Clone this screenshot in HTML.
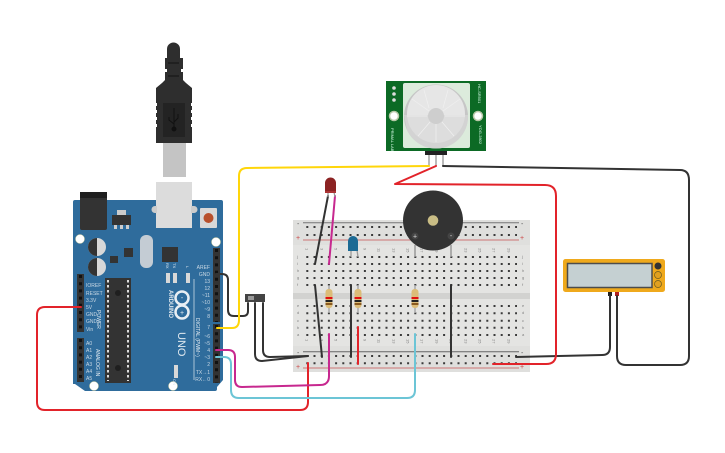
<!DOCTYPE html>
<html><head><meta charset="utf-8"><style>
html,body{margin:0;padding:0;background:#fff}
svg{display:block}
text{font-family:"Liberation Sans",sans-serif}
.w{fill:none;stroke-width:2;stroke-linecap:round;stroke-linejoin:round}
.h{stroke:#3a3a3a;stroke-width:2;fill:none}
.l text{font-size:5px;fill:#c9d8e4}
.n text{font-size:4px;fill:#808080}
.v text{writing-mode:vertical-rl}
</style></head><body>
<svg width="725" height="453" viewBox="0 0 725 453" xmlns="http://www.w3.org/2000/svg">
<!-- breadboard -->
<rect x="293" y="220" width="237" height="152" rx="2" fill="#e4e4e2"/>
<rect x="293" y="220" width="237" height="25" fill="#dfdfdd"/>
<rect x="293" y="346" width="237" height="26" fill="#dfdfdd"/>
<rect x="293" y="293" width="237" height="6" fill="#d2d2d0"/>
<line x1="303" y1="222.7" x2="519" y2="222.7" stroke="#777" stroke-width="1"/>
<line x1="303" y1="240" x2="519" y2="240" stroke="#d08a8a" stroke-width="1.300"/>
<line x1="303" y1="351.7" x2="519" y2="351.7" stroke="#666" stroke-width="1"/>
<line x1="303" y1="368" x2="519" y2="368" stroke="#d08a8a" stroke-width="1.300"/>
<g class="h" stroke-dasharray="2 5.2">
<line x1="306.3" y1="227" x2="517" y2="227"/><line x1="306.3" y1="235" x2="517" y2="235"/>
<line x1="306.3" y1="356" x2="517" y2="356"/><line x1="306.3" y1="363.3" x2="517" y2="363.3"/>
<line x1="306.3" y1="257" x2="517" y2="257"/><line x1="306.3" y1="264" x2="517" y2="264"/><line x1="306.3" y1="271" x2="517" y2="271"/><line x1="306.3" y1="278" x2="517" y2="278"/><line x1="306.3" y1="285" x2="517" y2="285"/>
<line x1="306.3" y1="306" x2="517" y2="306"/><line x1="306.3" y1="313.3" x2="517" y2="313.3"/><line x1="306.3" y1="320.7" x2="517" y2="320.7"/><line x1="306.3" y1="327.7" x2="517" y2="327.7"/><line x1="306.3" y1="335" x2="517" y2="335"/>
</g>
<g class="n">
<text x="297" y="258">j</text><text x="297" y="265">i</text><text x="297" y="272">h</text><text x="297" y="279">g</text><text x="297" y="286">f</text>
<text x="297" y="307">e</text><text x="297" y="314">d</text><text x="297" y="322">c</text><text x="297" y="329">b</text><text x="297" y="336">a</text>
<text x="522" y="258">j</text><text x="522" y="265">i</text><text x="522" y="272">h</text><text x="522" y="279">g</text><text x="522" y="286">f</text>
<text x="522" y="307">e</text><text x="522" y="314">d</text><text x="522" y="322">c</text><text x="522" y="329">b</text><text x="522" y="336">a</text>
</g>
<g class="n v">
<text x="307" y="248">1</text><text x="322" y="248">3</text><text x="336" y="248">5</text><text x="365" y="248">9</text><text x="379" y="248">11</text><text x="394" y="248">13</text><text x="408" y="248">15</text><text x="422" y="248">17</text><text x="437" y="248">19</text><text x="466" y="248">23</text><text x="480" y="248">25</text><text x="494" y="248">27</text><text x="509" y="248">29</text>
<text x="307" y="339">1</text><text x="322" y="339">3</text><text x="336" y="339">5</text><text x="365" y="339">9</text><text x="379" y="339">11</text><text x="394" y="339">13</text><text x="408" y="339">15</text><text x="422" y="339">17</text><text x="437" y="339">19</text><text x="451" y="339">21</text><text x="466" y="339">23</text><text x="480" y="339">25</text><text x="494" y="339">27</text><text x="509" y="339">29</text>
</g>
<g font-size="7" fill="#c44"><text x="296" y="240">+</text><text x="520" y="240">+</text><text x="296" y="369">+</text><text x="520" y="369">+</text></g>
<g font-size="7" fill="#555"><text x="297" y="226">-</text><text x="521" y="226">-</text><text x="297" y="355">-</text><text x="521" y="355">-</text></g>

<!-- resistors -->
<g stroke="#aaa" stroke-width="1.500"><line x1="329" y1="285" x2="329" y2="313"/><line x1="358" y1="285" x2="358" y2="313"/><line x1="415" y1="285" x2="415" y2="313"/></g>
<g><rect x="325.500" y="289" width="7" height="19" rx="3" fill="#dcbc78"/><rect x="325.500" y="297" width="7" height="2" fill="#e01010"/><rect x="325.500" y="300" width="7" height="2" fill="#222"/><rect x="325.500" y="303" width="7" height="2" fill="#8a5a20"/></g>
<g><rect x="354.500" y="289" width="7" height="19" rx="3" fill="#dcbc78"/><rect x="354.500" y="297" width="7" height="2" fill="#e01010"/><rect x="354.500" y="300" width="7" height="2" fill="#222"/><rect x="354.500" y="303" width="7" height="2" fill="#8a5a20"/></g>
<g><rect x="411.500" y="289" width="7" height="19" rx="3" fill="#dcbc78"/><rect x="411.500" y="297" width="7" height="2" fill="#e01010"/><rect x="411.500" y="300" width="7" height="2" fill="#222"/><rect x="411.500" y="303" width="7" height="2" fill="#8a5a20"/></g>

<!-- blue LED -->
<line x1="351" y1="250" x2="351" y2="257" stroke="#999" stroke-width="1.300"/><line x1="357" y1="250" x2="358" y2="257" stroke="#999" stroke-width="1.300"/>
<path d="M348 251V241a5 5 0 0 1 10 0V251Z" fill="#1c6a94"/>

<!-- buzzer -->
<line x1="415" y1="245" x2="415" y2="257" stroke="#999" stroke-width="1.500"/><line x1="451" y1="245" x2="451" y2="257" stroke="#999" stroke-width="1.500"/>
<circle cx="433" cy="220.500" r="30" fill="#333"/>
<circle cx="433" cy="220.500" r="5.300" fill="#c9bd85"/>
<circle cx="415" cy="236" r="3.500" fill="#444"/><circle cx="451" cy="236" r="3.500" fill="#444"/>
<text x="415" y="238.500" font-size="7" fill="#ddd" text-anchor="middle">+</text><text x="451" y="238" font-size="7" fill="#ddd" text-anchor="middle">-</text>

<!-- arduino -->
<path d="M75 200H221Q223 200 223 202V380L217 387V389Q217 391 215 391H85L75 384H73V202Q73 200 75 200Z" fill="#2f6c9c"/>
<rect x="80" y="192" width="27" height="38" rx="2" fill="#333"/><rect x="80" y="192" width="27" height="6" fill="#1f1f1f"/>
<rect x="112" y="215" width="19" height="10" fill="#333"/><rect x="117" y="210" width="9" height="5" fill="#ccc"/>
<g fill="#ccc"><rect x="114" y="225" width="3" height="4"/><rect x="120" y="225" width="3" height="4"/><rect x="126" y="225" width="3" height="4"/></g>
<rect x="200" y="208" width="17" height="20" rx="1" fill="#d8d8d8"/><circle cx="208.500" cy="218" r="5" fill="#b8502c"/>
<g fill="#fff" stroke="#cfcf9f" stroke-width="0.500"><circle cx="80" cy="239" r="4.500"/><circle cx="216" cy="242" r="4.500"/><circle cx="94" cy="386" r="4.500"/><circle cx="173" cy="386" r="4.500"/></g>
<circle cx="97" cy="247" r="9" fill="#d8d8d8"/><path d="M97 238a9 9 0 0 0 0 18Z" fill="#333"/>
<circle cx="97" cy="267" r="9" fill="#d8d8d8"/><path d="M97 258a9 9 0 0 0 0 18Z" fill="#333"/>
<rect x="140" y="235" width="13" height="33" rx="6" fill="#c4ccd4"/>
<rect x="124" y="248" width="9" height="9" fill="#333"/><rect x="162" y="247" width="16" height="15" fill="#333"/>
<rect x="110" y="256" width="8" height="7" fill="#333"/>
<rect x="105" y="278" width="26" height="105" fill="#333"/>
<line x1="108" y1="280" x2="108" y2="381" stroke="#ddd" stroke-width="2" stroke-dasharray="2.500 2.500"/><line x1="128" y1="280" x2="128" y2="381" stroke="#ddd" stroke-width="2" stroke-dasharray="2.500 2.500"/>
<circle cx="118" cy="293" r="3" fill="#1f1f1f"/><circle cx="118" cy="368" r="3" fill="#1f1f1f"/>
<g fill="#333"><rect x="213" y="248" width="7" height="74"/><rect x="213" y="324" width="7" height="59"/><rect x="77" y="274" width="7" height="58"/><rect x="77" y="338" width="7" height="44"/></g>
<line x1="216.500" y1="249" x2="216.500" y2="322" stroke="#111" stroke-width="3" stroke-dasharray="3 4.200"/><line x1="216.500" y1="325" x2="216.500" y2="383" stroke="#111" stroke-width="3" stroke-dasharray="3 4.200"/>
<line x1="80.500" y1="275" x2="80.500" y2="332" stroke="#111" stroke-width="3" stroke-dasharray="3 4.200"/><line x1="80.500" y1="339" x2="80.500" y2="382" stroke="#111" stroke-width="3" stroke-dasharray="3 4.200"/>
<g fill="#d8d8d8"><rect x="166" y="273" width="4" height="10"/><rect x="173" y="273" width="4" height="10"/><rect x="186" y="273" width="4" height="10"/><rect x="174" y="365" width="4" height="13"/></g>
<line x1="194" y1="279" x2="194" y2="380" stroke="#dfe8ef" stroke-width="0.700"/>
<g class="l" text-anchor="end">
<text x="210" y="269">AREF</text><text x="210" y="276">GND</text><text x="210" y="283">13</text><text x="210" y="290">12</text><text x="210" y="297">~11</text><text x="210" y="304">~10</text><text x="210" y="311">~9</text><text x="210" y="318">8</text>
<text x="210" y="329">7</text><text x="210" y="338">~6</text><text x="210" y="345">~5</text><text x="210" y="352">4</text><text x="210" y="359">~3</text><text x="210" y="366">2</text><text x="210" y="374">TX→1</text><text x="210" y="381">RX←0</text>
</g>
<g class="l">
<text x="86" y="287">IOREF</text><text x="86" y="295">RESET</text><text x="86" y="302">3.3V</text><text x="86" y="309">5V</text><text x="86" y="316">GND</text><text x="86" y="323">GND</text><text x="86" y="331">Vin</text>
<text x="86" y="345">A0</text><text x="86" y="352">A1</text><text x="86" y="359">A2</text><text x="86" y="366">A3</text><text x="86" y="373">A4</text><text x="86" y="380">A5</text>
</g>
<g fill="#dfe8ef" font-size="5">
<text transform="translate(97,310) rotate(90)">POWER</text>
<text transform="translate(96,349) rotate(90)">ANALOG IN</text>
<text transform="translate(169,290) rotate(90)" font-weight="bold" font-size="6">ARDUINO</text>
<text transform="translate(196,318) rotate(90)">DIGITAL (PWM~)</text>
<text transform="translate(178,332) rotate(90)" font-size="11">UNO</text>
<text transform="translate(166,263) rotate(90)" font-size="4">RX</text><text transform="translate(173,263) rotate(90)" font-size="4">TX</text><text transform="translate(186,266) rotate(90)" font-size="4">L</text>
<text transform="translate(173,379) rotate(90)" font-size="4">ON</text>
</g>
<g fill="none" stroke="#e8eef3" stroke-width="2.500"><circle cx="182" cy="298" r="6.500"/><circle cx="182" cy="312" r="6.500"/></g>
<text x="182" y="300" font-size="7" fill="#e8eef3" text-anchor="middle">-</text><text x="182" y="315" font-size="7" fill="#e8eef3" text-anchor="middle">+</text>

<!-- USB -->
<rect x="156" y="182" width="36" height="46" fill="#dcdcdc"/><path d="M157 206h-2a3.500 3.500 0 0 0 0 7h2ZM191 206h3a3.500 3.500 0 0 1 0 7h-3Z" fill="#ccc"/>
<rect x="163" y="143" width="23" height="34" fill="#c4c4c4"/>
<path d="M167 58V49a6.500 6.500 0 0 1 13 0V58h3V69h-2V72h2V80L186 83L192 88V143H156V88L162 83L165 80V72h2V69h-2V58Z" fill="#2e2e2e"/>
<rect x="163" y="103" width="22" height="34" fill="#232323"/>
<g stroke="#1a1a1a" stroke-width="1.300" fill="none"><line x1="168" y1="63" x2="179" y2="63"/><line x1="168" y1="76" x2="179" y2="76"/></g>
<g stroke="#111" stroke-width="1" fill="#111"><line x1="174" y1="108" x2="174" y2="128"/><circle cx="174" cy="129" r="2"/><path d="M174 124L169 120V117M174 122L178 118V114" fill="none"/></g>
<g fill="#fff"><rect x="155" y="103" width="2" height="3"/><rect x="155" y="110" width="2" height="3"/><rect x="155" y="117" width="2" height="3"/><rect x="155" y="124" width="2" height="3"/><rect x="191" y="103" width="2" height="3"/><rect x="191" y="110" width="2" height="3"/><rect x="191" y="117" width="2" height="3"/><rect x="191" y="124" width="2" height="3"/></g>

<!-- PIR -->
<rect x="386" y="81" width="100" height="70" fill="#0c6a25"/>
<rect x="403" y="83" width="67" height="65" rx="2" fill="#dcebdc"/>
<circle cx="436" cy="116.500" r="32" fill="#c6c6c6"/>
<circle cx="436" cy="114" r="29" fill="#e6e6e6"/>
<path d="M404 115H468A32 32 0 0 1 407 130Z" fill="#d9d9d9" opacity="0.700"/>
<g stroke="#f0f0f0" stroke-width="0.700"><line x1="429" y1="108" x2="424" y2="90"/><line x1="443" y1="108" x2="448" y2="90"/><line x1="427" y1="116" x2="407" y2="116"/><line x1="445" y1="116" x2="465" y2="116"/><line x1="430" y1="122" x2="418" y2="136"/><line x1="442" y1="122" x2="454" y2="136"/><line x1="436" y1="124" x2="436" y2="142"/><line x1="429" y1="111" x2="412" y2="99"/><line x1="443" y1="111" x2="460" y2="99"/></g>
<circle cx="436" cy="116" r="8" fill="#cecece"/>
<circle cx="394" cy="116" r="4.500" fill="#fff" stroke="#b8c8a8" stroke-width="1.500"/><circle cx="478" cy="116" r="4.500" fill="#fff" stroke="#b8c8a8" stroke-width="1.500"/>
<g fill="#ddd"><circle cx="394" cy="88" r="1.800"/><circle cx="394" cy="94" r="1.800"/><circle cx="394" cy="100" r="1.800"/></g>
<g fill="#dfe" font-size="4"><text transform="translate(391,128) rotate(90)">PRIMAL LAB</text><text transform="translate(479,125) rotate(90)">YOG-2802</text><text transform="translate(478,84) rotate(90)">HC-SR501</text></g>
<rect x="425" y="151" width="22" height="4" fill="#222"/>
<g stroke="#bbb" stroke-width="2"><line x1="429" y1="155" x2="429" y2="166"/><line x1="436" y1="155" x2="436" y2="166"/><line x1="443" y1="155" x2="443" y2="166"/></g>

<!-- multimeter -->
<rect x="563" y="259" width="102" height="33" rx="2.500" fill="#efa91c"/>
<rect x="567.500" y="263.500" width="84.500" height="24" fill="#c5d0d2" stroke="#4c4c4c" stroke-width="1.500"/>
<circle cx="658" cy="266" r="3.500" fill="#333"/><circle cx="658" cy="275" r="3.500" fill="#e0a020" stroke="#6a5a20" stroke-width="0.700"/><circle cx="658" cy="284" r="3.500" fill="#e0a020" stroke="#6a5a20" stroke-width="0.700"/>
<rect x="608" y="292" width="4" height="4" fill="#222"/><rect x="615" y="292" width="4" height="4" fill="#b02020"/>

<!-- slide switch -->
<rect x="245" y="294" width="20" height="8" fill="#444"/><rect x="248" y="296" width="6" height="4" fill="#9a9a9a"/>

<!-- wires -->
<g class="w" stroke="#333">
<path d="M328 196L315 264"/>
<path d="M315 285L322 357"/>
<path d="M351 285V357"/>
<path d="M451 285V357"/>
<path d="M216 274H222Q228 274 228 280V310Q228 316 234 316H243Q248 316 248 311V303"/>
<path d="M255 303V354Q255 361 262 361L308 356"/>
<path d="M263 303V350Q263 357 270 357L308 356"/>
<path d="M516 357L602 355Q610 355 610 347V296"/>
<path d="M617 296V356Q617 365 626 365H680Q689 365 689 356V180Q689 170 680 170L443 166"/>
</g>
<path class="w" stroke="#ffd60a" d="M217 328H232Q239 328 239 320V176Q239 168 247 168L429 166"/>
<g class="w" stroke="#e2232a">
<path d="M436 166L395 184L545 185Q556 185 556 196V354Q556 364 546 364H493"/>
<path d="M81 307H45Q37 307 37 315V402Q37 410 45 410H300Q308 410 308 402V363"/>
<path d="M358 327V364"/>
</g>
<g class="w" stroke="#c7288f">
<path d="M335 196L329 264"/>
<path d="M216 350H228Q235 350 235 357V380Q235 387 242 387L320 385Q329 385 329 376V334"/>
</g>
<path class="w" stroke="#6cc5d6" d="M216 357H224Q231 357 231 364V390Q231 398 239 398H407Q415 398 415 390V334"/>

<!-- red LED -->
<g stroke="#999" stroke-width="1.300"><line x1="328" y1="192" x2="328" y2="197"/><line x1="334" y1="192" x2="335" y2="197"/></g>
<path d="M325 192V183a5.500 5.500 0 0 1 11 0V192Z" fill="#8c2323"/><rect x="325" y="191" width="11" height="2" fill="#a33"/>
</svg>
</body></html>
